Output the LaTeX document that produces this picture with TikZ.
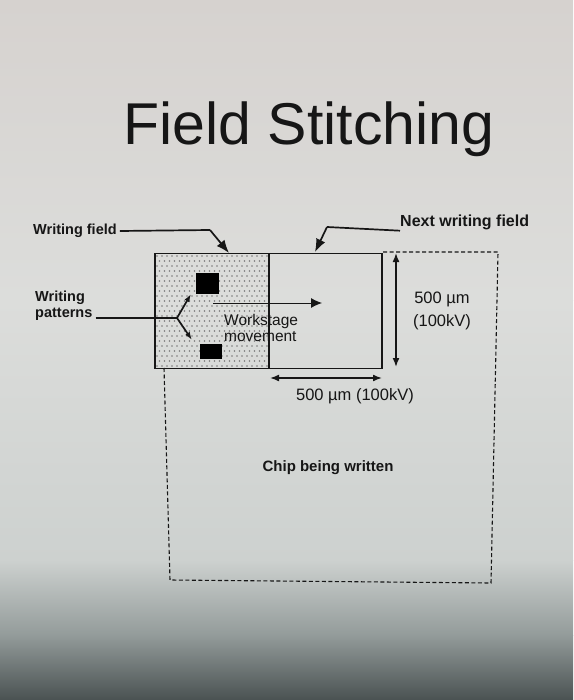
\documentclass[tikz,border=0pt]{standalone}
\usepackage{fontspec}
\setmainfont{Liberation Sans}
\usetikzlibrary{arrows.meta}
\definecolor{ink}{HTML}{161616}
\definecolor{bgA}{HTML}{D6D2CF}
\definecolor{bgB}{HTML}{DCDDDB}
\definecolor{bgC}{HTML}{CDD1CF}
\definecolor{bgD}{HTML}{939B9A}
\definecolor{bgE}{HTML}{4A5252}
\definecolor{dotc}{HTML}{7A7A7A}
\tikzset{
  lbl/.style={text=ink, inner sep=0pt, font=\bfseries\fontsize{14.5}{16}\selectfont},
  dimlbl/.style={text=ink, inner sep=0pt, font=\fontsize{16.5}{23}\selectfont},
  fieldbox/.style={draw=ink, line width=1.5pt, inner sep=0pt},
  blk/.style={fill=black, draw=none, inner sep=0pt},
  conn/.style={draw=ink, line width=1.7pt},
  bigtip/.style={-{Latex[length=13pt,width=10pt]}},
  smalltip/.style={-{Latex[length=8pt,width=5.5pt]}},
  dimarrow/.style={draw=ink, line width=1.6pt, {Latex[length=9pt,width=7pt]}-{Latex[length=9pt,width=7pt]}},
  chipline/.style={draw=ink, line width=1.1pt, dash pattern=on 4pt off 2.5pt},
}
\begin{document}
\begin{tikzpicture}[x=1pt,y=-1pt]
\useasboundingbox (0,0) rectangle (573,700);
% background (photo of a screen)
\shade[top color=bgA, bottom color=bgB] (0,0) rectangle (573,300.5);
\shade[top color=bgB, bottom color=bgC] (0,300) rectangle (573,560.5);
\shade[top color=bgC, bottom color=bgD] (0,560) rectangle (573,635.5);
\shade[top color=bgD, bottom color=bgE] (0,635) rectangle (573,700);

% title
\node[text=ink, inner sep=0pt, anchor=base, font=\fontsize{59}{62}\selectfont] (title) at (309,145) {Field Stitching};

% chip being written (dashed outline)
\coordinate (c1) at (164,368);
\coordinate (c2) at (170,580);
\coordinate (c3) at (491,583);
\coordinate (c4) at (498,252);
\coordinate (c5) at (382,252);
\draw[chipline] (c1) -- (c2) -- (c3) -- (c4) -- (c5);

% writing field (dotted) and next writing field
\node[fieldbox, minimum width=114pt, minimum height=115pt] (wf) at (212,311) {};
\begin{scope}
  \clip (wf.south west) rectangle (wf.north east);
  \foreach \i in {0,...,23} {
    \foreach \j in {0,...,23} {
      \pgfmathsetmacro{\xx}{157+\i*5+mod(\j,2)*2.5}
      \pgfmathsetmacro{\yy}{256+\j*5}
      \fill[dotc] (\xx,\yy) circle (0.8pt);
    }
  }
\end{scope}
\node[fieldbox, minimum width=114pt, minimum height=115pt] (wf) at (212,311) {};
\node[fieldbox, minimum width=113pt, minimum height=115pt] (nwf) at (325.5,311) {};

% writing patterns
\node[blk, minimum width=23pt, minimum height=21pt] (p1) at (207.5,283.5) {};
\node[blk, minimum width=22pt, minimum height=15pt] (p2) at (211,351.5) {};

% workstage movement
\coordinate (ws0) at (213,303);
\coordinate (ws1) at (322,303);
\draw[draw=ink, line width=0.9pt, -{Latex[length=11pt,width=10pt]}] (ws0) -- (ws1);
\node[text=ink, inner sep=0pt, anchor=west, align=left, font=\fontsize{15.5}{16}\selectfont] (wsl) at (224,328) {Workstage\\movement};

% dimension arrows
\coordinate (v0) at (396,253);
\coordinate (v1) at (396,367);
\draw[dimarrow] (v0) -- (v1);
\node[dimlbl, align=center] (vlab) at (442,311) {500 µm\\(100kV)};
\coordinate (h0) at (270,378);
\coordinate (h1) at (382,378);
\draw[dimarrow] (h0) -- (h1);
\node[dimlbl] (hlab) at (355,396) {500 µm (100kV)};

% chip label
\node[lbl, font=\bfseries\fontsize{15}{16}\selectfont] (chip) at (328,468) {Chip being written};

% writing field label
\node[lbl, anchor=west] (wfl) at (33,231) {Writing field};
\coordinate (wfk) at (210,230);
\coordinate (wft) at (229,253);
\draw[conn] (wfl.east) ++(3pt,0) -- (wfk);
\draw[conn, bigtip] (wfk) -- (wft);

% next writing field label
\node[lbl, anchor=west, font=\bfseries\fontsize{16}{17}\selectfont] (nwl) at (400,222) {Next writing field};
\coordinate (nwk) at (327,227);
\coordinate (nwt) at (315,252);
\draw[conn] (nwl.south west) ++(0,-1pt) -- (nwk);
\draw[conn, bigtip] (nwk) -- (nwt);

% writing patterns label
\node[lbl, anchor=west, align=left] (wpl) at (35,306) {Writing\\patterns};
\coordinate (fork) at (177,318);
\draw[conn] (wpl.east |- fork) ++(3pt,0) -- (fork);
\draw[conn, smalltip] (fork) -- (191,294);
\draw[conn, smalltip] (fork) -- (192,340);
\end{tikzpicture}
\end{document}
